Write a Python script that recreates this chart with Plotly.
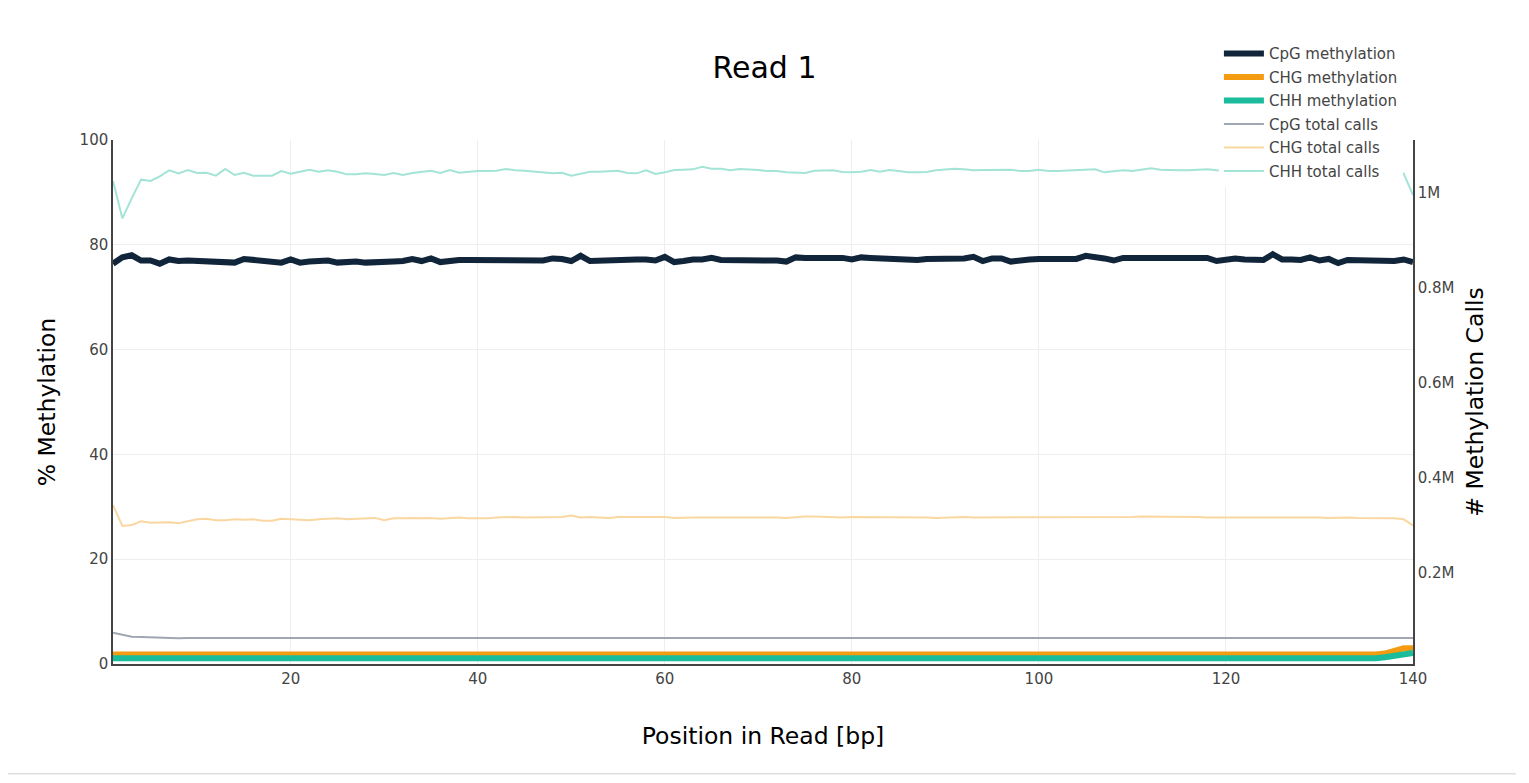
import plotly.graph_objects as go

positions = list(range(1, 141))

cpg_meth = [
    76.4, 77.6, 78.0, 77.0, 77.0, 76.4, 77.2, 76.9, 77.0, 76.9,
    76.8, 76.8, 76.7, 76.6, 77.3, 77.1, 77.0, 76.9, 76.6, 77.2,
    76.6, 76.8, 76.9, 77.0, 76.6, 76.7, 76.8, 76.6, 76.6, 76.6,
    76.8, 76.9, 77.3, 76.9, 77.4, 76.7, 77.0, 77.1, 77.1, 77.1,
    77.0, 77.0, 76.9, 77.1, 77.0, 77.0, 77.0, 77.4, 77.3, 76.9,
    77.9, 76.9, 77.0, 77.1, 77.2, 77.2, 77.2, 77.2, 77.0, 77.7,
    76.7, 76.9, 77.2, 77.2, 77.5, 77.1, 77.1, 77.2, 77.2, 77.1,
    77.2, 77.0, 76.8, 77.6, 77.5, 77.5, 77.5, 77.4, 77.5, 77.2,
    77.6, 77.5, 77.4, 77.4, 77.2, 77.1, 77.1, 77.3, 77.3, 77.3,
    77.3, 77.4, 77.7, 76.9, 77.4, 77.4, 76.8, 77.1, 77.2, 77.3,
    77.3, 77.3, 77.3, 77.3, 77.9, 77.7, 77.4, 77.0, 77.5, 77.5,
    77.5, 77.5, 77.5, 77.5, 77.5, 77.5, 77.5, 77.5, 76.9, 77.2,
    77.4, 77.2, 77.2, 77.1, 78.2, 77.2, 77.2, 77.1, 77.6, 77.0,
    77.3, 76.5, 77.1, 77.1, 77.0, 77.0, 76.9, 76.9, 77.2, 76.7,
]

chg_meth = [
    1.8, 1.8, 1.8, 1.8, 1.8, 1.7, 1.7, 1.7, 1.7, 1.7,
    1.7, 1.7, 1.7, 1.7, 1.7, 1.7, 1.7, 1.7, 1.7, 1.7,
    1.7, 1.7, 1.7, 1.7, 1.7, 1.7, 1.7, 1.7, 1.7, 1.7,
    1.7, 1.7, 1.7, 1.7, 1.7, 1.8, 1.7, 1.7, 1.7, 1.7,
    1.7, 1.7, 1.7, 1.7, 1.7, 1.7, 1.7, 1.7, 1.7, 1.7,
    1.7, 1.7, 1.7, 1.7, 1.7, 1.7, 1.7, 1.7, 1.7, 1.7,
    1.7, 1.7, 1.7, 1.7, 1.7, 1.7, 1.7, 1.7, 1.7, 1.7,
    1.7, 1.7, 1.7, 1.7, 1.7, 1.7, 1.7, 1.7, 1.7, 1.7,
    1.7, 1.7, 1.7, 1.7, 1.7, 1.7, 1.7, 1.7, 1.7, 1.7,
    1.7, 1.7, 1.7, 1.7, 1.7, 1.7, 1.7, 1.7, 1.7, 1.7,
    1.7, 1.7, 1.7, 1.7, 1.7, 1.7, 1.7, 1.7, 1.7, 1.7,
    1.7, 1.7, 1.7, 1.7, 1.7, 1.7, 1.7, 1.7, 1.7, 1.7,
    1.7, 1.7, 1.7, 1.7, 1.7, 1.7, 1.7, 1.7, 1.7, 1.7,
    1.7, 1.7, 1.7, 1.7, 1.7, 1.8, 2.0, 2.4, 3.0, 3.0,
]

chh_meth = [
    1.1, 1.1, 1.1, 1.1, 1.1, 1.1, 1.1, 1.1, 1.1, 1.0,
    1.0, 1.0, 1.0, 1.0, 1.0, 1.0, 1.0, 1.0, 1.0, 1.0,
    1.0, 1.0, 1.0, 1.0, 1.0, 1.0, 1.0, 1.0, 1.0, 1.0,
    1.0, 1.0, 1.0, 1.0, 1.0, 1.0, 1.0, 1.0, 1.0, 1.0,
    1.0, 1.0, 1.0, 0.9, 1.0, 1.0, 1.0, 1.0, 1.0, 1.0,
    1.0, 1.0, 1.0, 1.0, 1.0, 1.0, 1.0, 1.0, 1.0, 1.0,
    1.0, 1.0, 1.0, 1.0, 1.0, 1.0, 1.0, 1.0, 1.0, 1.0,
    1.0, 1.0, 1.0, 1.0, 1.0, 1.0, 1.0, 1.0, 1.0, 1.0,
    1.0, 1.0, 1.0, 1.0, 1.0, 1.0, 1.0, 1.0, 1.0, 1.0,
    1.0, 1.0, 1.0, 1.0, 1.0, 1.0, 1.0, 1.0, 1.0, 1.0,
    1.0, 1.0, 1.0, 1.0, 1.0, 1.0, 1.0, 1.0, 1.0, 1.0,
    1.0, 1.0, 1.0, 1.0, 1.0, 1.0, 1.0, 1.0, 1.0, 1.0,
    1.0, 1.0, 1.0, 1.0, 1.0, 1.0, 1.0, 1.0, 1.0, 1.0,
    1.0, 1.0, 1.0, 1.0, 1.0, 1.1, 1.3, 1.6, 2.0, 2.1,
]

cpg_calls = [
    74000, 70000, 66000, 65000, 64000, 63500, 63000, 62500, 63000, 63000,
    63000, 63000, 63500, 63500, 63500, 63500, 63500, 64000, 64000, 64000,
    64000, 64000, 64000, 64000, 64000, 64000, 64000, 64000, 64000, 64000,
    64000, 64000, 64000, 64000, 64000, 64000, 64000, 64000, 64000, 64000,
    64000, 64000, 64000, 64000, 63500, 63500, 63500, 63500, 63500, 64000,
    64000, 63500, 63500, 63500, 64000, 64000, 64000, 64000, 64000, 64000,
    64000, 64000, 64000, 64000, 64000, 64000, 64000, 64000, 64000, 64000,
    64000, 64000, 64000, 64000, 64000, 64000, 64000, 64000, 64000, 64000,
    64000, 64000, 64000, 64000, 64000, 64000, 64000, 64000, 64000, 64000,
    64000, 64000, 64000, 64000, 64000, 64000, 64000, 64000, 64000, 64000,
    64000, 64000, 64000, 64000, 64000, 64000, 64000, 64000, 64000, 64000,
    64000, 64000, 64000, 64000, 64000, 64500, 64500, 64500, 64500, 64500,
    64000, 64000, 64000, 64000, 64000, 64000, 64000, 64000, 64000, 64000,
    64000, 64000, 64000, 64000, 64000, 64000, 64000, 64000, 63500, 63000,
]

chg_calls = [
    343000, 299000, 301000, 309000, 306000, 307000, 307000, 305000, 309000, 313000,
    314000, 311000, 311000, 313000, 312000, 313000, 310000, 310000, 314000, 313000,
    312000, 311000, 313000, 314000, 315000, 313000, 314000, 316000, 316000, 311000,
    315000, 315000, 316000, 315000, 316000, 314000, 316000, 317000, 315000, 315000,
    315000, 317000, 318000, 318000, 317000, 317000, 317000, 317000, 318000, 321000,
    317000, 318000, 317000, 316000, 318000, 318000, 317000, 318000, 317000, 318000,
    316000, 317000, 317000, 317000, 317000, 318000, 317000, 318000, 318000, 318000,
    318000, 317000, 316000, 318000, 319000, 319000, 318000, 318000, 317000, 318000,
    318000, 318000, 318000, 318000, 318000, 318000, 317000, 317000, 316000, 317000,
    318000, 318000, 317000, 317000, 317000, 317000, 317000, 318000, 318000, 318000,
    318000, 318000, 318000, 317000, 318000, 317000, 317000, 317000, 318000, 318000,
    319000, 319000, 319000, 318000, 318000, 318000, 318000, 317000, 317000, 317000,
    317000, 317000, 317000, 317000, 317000, 318000, 317000, 318000, 318000, 317000,
    316000, 317000, 317000, 316000, 316000, 316000, 315000, 315000, 313000, 300000,
]

chh_calls = [
    1025300, 946700, 988800, 1028100, 1025300, 1035000, 1047700, 1041400, 1048400, 1042000,
    1042800, 1036500, 1050500, 1037900, 1042800, 1036500, 1036500, 1036500, 1046300, 1040700,
    1044900, 1049100, 1044900, 1047700, 1044900, 1039300, 1039300, 1041400, 1040000, 1037900,
    1042100, 1037900, 1042100, 1044900, 1047000, 1042100, 1048400, 1042800, 1044900, 1046300,
    1046300, 1047000, 1050500, 1047700, 1047000, 1044900, 1043500, 1041400, 1042800, 1036500,
    1040700, 1044900, 1044900, 1045600, 1047000, 1042100, 1041400, 1047700, 1040000, 1043500,
    1048400, 1049100, 1049800, 1055400, 1051200, 1051200, 1047700, 1050500, 1049800, 1048400,
    1046300, 1046300, 1043500, 1043500, 1042100, 1047000, 1047000, 1047700, 1044200, 1043500,
    1044900, 1048400, 1044900, 1048400, 1046300, 1043500, 1043500, 1044200, 1047700, 1049800,
    1051200, 1049800, 1047700, 1048400, 1049100, 1049100, 1049100, 1046300, 1046300, 1049100,
    1046300, 1046300, 1047000, 1047700, 1049100, 1049800, 1043500, 1046300, 1047700, 1046300,
    1049100, 1052000, 1049100, 1047700, 1047700, 1047700, 1049100, 1049800, 1047700, 1047700,
    1048000, 1048400, 1047700, 1047000, 1047700, 1048400, 1047700, 1047000, 1046300, 1047000,
    1047700, 1047000, 1046300, 1045600, 1046300, 1045600, 1044900, 1044200, 1041400, 995800,
]

right_tickvals = [200000, 400000, 600000, 800000, 1000000]
right_ticktext = ["0.2M", "0.4M", "0.6M", "0.8M", "1M"]

NAVY = "#10243a"
ORANGE = "#f39c12"
TEAL = "#1abc9c"

fig = go.Figure()
series = [
    ("CpG methylation", cpg_meth, "y", NAVY, 6),
    ("CHG methylation", chg_meth, "y", ORANGE, 6),
    ("CHH methylation", chh_meth, "y", TEAL, 6),
    ("CpG total calls", cpg_calls, "y2", "#9fa7b0", 2),
    ("CHG total calls", chg_calls, "y2", "#fad7a0", 2),
    ("CHH total calls", chh_calls, "y2", "#a3e4d7", 2),
]
for name, vals, ax, col, w in series:
    fig.add_trace(go.Scatter(x=positions, y=vals, mode="lines", name=name, yaxis=ax,
                             legendgroup=name, line=dict(color=col, width=w)))

FONT = "Verdana, DejaVu Sans, sans-serif"

fig.update_layout(
    width=1513, height=767,
    margin=dict(l=105, r=108, t=132, b=111),
    paper_bgcolor="white", plot_bgcolor="white",
    font=dict(family=FONT, size=14, color="#444"),
    title=dict(text="Read 1", x=0.5, xanchor="center", y=0.923, yanchor="middle",
               font=dict(family=FONT, size=30, color="black")),
    xaxis=dict(range=[1, 140], tickvals=[20, 40, 60, 80, 100, 120, 140],
               showgrid=True, gridcolor="#eeeeee", gridwidth=1,
               showline=True, linecolor="#444", linewidth=1.5, zeroline=False,
               ticks="", tickfont=dict(size=15, color="#444"),
               title=dict(text="Position in Read [bp]", font=dict(size=23.5, color="black"), standoff=41)),
    yaxis=dict(range=[0, 100], tickvals=[0, 20, 40, 60, 80, 100],
               showgrid=True, gridcolor="#eeeeee", gridwidth=1,
               showline=True, linecolor="#444", linewidth=1.5, zeroline=False,
               ticks="", tickfont=dict(size=15, color="#444"),
               title=dict(text="% Methylation", font=dict(size=23.5, color="black"), standoff=17)),
    yaxis2=dict(overlaying="y", side="right", range=[8400, 1111600],
                tickvals=right_tickvals, ticktext=right_ticktext,
                showgrid=False, showline=True, linecolor="#444", linewidth=1.5, zeroline=False,
                ticks="", tickfont=dict(size=15, color="#444"),
                title=dict(text="# Methylation Calls", font=dict(size=23.5, color="black"), standoff=13)),
    legend=dict(x=0.8507, y=1.196, xanchor="left", yanchor="top", bgcolor="white",
                font=dict(size=15, color="#444"), itemwidth=40,
                traceorder="grouped", tracegroupgap=1),
    showlegend=True,
)

fig.add_shape(type="line", xref="paper", yref="paper", x0=-0.087, x1=1.079,
              y0=-0.2095, y1=-0.2095, line=dict(color="#dddddd", width=1.5))

fig.write_html("out.html")
